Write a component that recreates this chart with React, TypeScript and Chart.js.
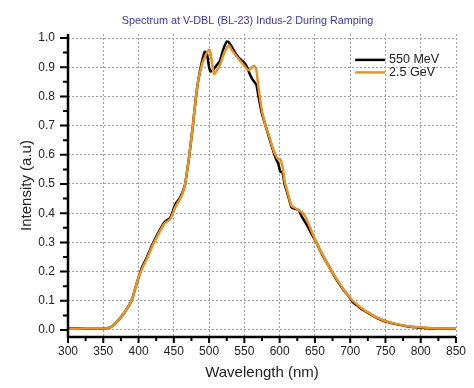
import React, { useEffect, useRef } from "react";
import { Chart, registerables } from "chart.js";

Chart.register(...registerables);

const TITLE = "Spectrum at V-DBL (BL-23) Indus-2 During Ramping";
const X_TITLE = "Wavelength (nm)";
const Y_TITLE = "Intensity (a.u)";
const SERIES_LABELS = ["550 MeV", "2.5 GeV"];
const SERIES_COLORS = ["#000000", "#f0901e"];

const X_TICKS = [300, 350, 400, 450, 500, 550, 600, 650, 700, 750, 800, 850];
const Y_TICKS = [0, 0.1, 0.2, 0.3, 0.4, 0.5, 0.6, 0.7, 0.8, 0.9, 1.0];

const wavelengths = [
  300, 320, 340, 355, 362, 370, 380, 390, 395, 400, 405, 412, 421, 430, 437,
  445, 452, 458, 462, 466, 472, 477, 481, 485, 490, 494, 497, 500, 502, 505,
  507, 510, 515, 520, 525, 528, 532, 538, 543, 548, 553, 557, 561, 564, 567,
  570, 575, 580, 585, 590, 595, 598, 601, 604, 607, 612, 617, 622, 627, 631,
  636, 640, 645, 652, 660, 667, 674, 680, 687, 693, 700, 704, 712, 720, 728,
  735, 743, 752, 765, 780, 800, 817, 835, 850,
];

const intensity550MeV = [
  0.005, 0.005, 0.004, 0.006, 0.012, 0.03, 0.06, 0.1, 0.14, 0.18, 0.215, 0.25, 0.3, 0.342, 0.37,
  0.385, 0.43, 0.45, 0.47, 0.5, 0.6, 0.7, 0.79, 0.86, 0.92, 0.953, 0.945, 0.9, 0.885, 0.89,
  0.895, 0.905, 0.92, 0.96, 0.988, 0.985, 0.97, 0.945, 0.93, 0.92, 0.905, 0.88, 0.86, 0.85, 0.84,
  0.8, 0.74, 0.7, 0.66, 0.62, 0.585, 0.57, 0.542, 0.54, 0.5, 0.46, 0.42, 0.415, 0.41, 0.39,
  0.37, 0.354, 0.33, 0.3, 0.26, 0.23, 0.2, 0.175, 0.15, 0.13, 0.108, 0.095, 0.08, 0.066, 0.055,
  0.045, 0.036, 0.028, 0.02, 0.013, 0.008, 0.005, 0.004, 0.004,
];

const intensity25GeV = [
  0.004, 0.005, 0.005, 0.006, 0.012, 0.03, 0.06, 0.1, 0.14, 0.18, 0.21, 0.245, 0.295, 0.337, 0.365,
  0.38, 0.42, 0.445, 0.465, 0.5, 0.6, 0.7, 0.79, 0.86, 0.91, 0.935, 0.95, 0.96, 0.95, 0.9,
  0.877, 0.885, 0.905, 0.94, 0.965, 0.975, 0.96, 0.94, 0.925, 0.91, 0.895, 0.89, 0.9, 0.905, 0.89,
  0.83, 0.75, 0.7, 0.665, 0.625, 0.595, 0.585, 0.585, 0.56, 0.51, 0.465, 0.425, 0.418, 0.41, 0.405,
  0.39, 0.37, 0.34, 0.3, 0.262, 0.23, 0.2, 0.178, 0.152, 0.131, 0.11, 0.1, 0.083, 0.068, 0.057,
  0.046, 0.037, 0.029, 0.021, 0.014, 0.009, 0.006, 0.005, 0.005,
];

const FONT = "'Liberation Sans', Arial, sans-serif";

const decorPlugin = {
  id: "decor",
  afterDraw(chart: any) {
    const ctx = chart.ctx;
    const area = chart.chartArea;
    const xs = chart.scales.x;
    const ys = chart.scales.y;
    ctx.save();
    // axes
    ctx.strokeStyle = "#000";
    ctx.lineWidth = 2.5;
    ctx.setLineDash([]);
    ctx.beginPath();
    ctx.moveTo(area.left, area.top);
    ctx.lineTo(area.left, area.bottom + 1);
    ctx.moveTo(area.left - 1, area.bottom);
    ctx.lineTo(area.right, area.bottom);
    ctx.stroke();
    // ticks
    ctx.lineWidth = 2;
    ctx.beginPath();
    for (let v = 0; v <= 1.0001; v += 0.05) {
      const y = ys.getPixelForValue(v);
      const major = Math.abs(v * 10 - Math.round(v * 10)) < 1e-6;
      ctx.moveTo(area.left, y);
      ctx.lineTo(area.left - (major ? 8 : 5), y);
    }
    for (let v = 300; v <= 850; v += 25) {
      const x = xs.getPixelForValue(v);
      const major = v % 50 === 0;
      ctx.moveTo(x, area.bottom);
      ctx.lineTo(x, area.bottom + (major ? 6 : 4));
    }
    ctx.stroke();
    // title
    ctx.fillStyle = "#3535c0";
    ctx.font = `10.8px ${FONT}`;
    ctx.textAlign = "center";
    ctx.textBaseline = "middle";
    ctx.fillText(TITLE, 247.5, 21);
    // legend
    const ds = chart.data.datasets;
    const lx = xs.getPixelForValue(707);
    const ly = ys.getPixelForValue(0.925);
    ctx.font = `12.5px ${FONT}`;
    ctx.textAlign = "left";
    for (let i = 0; i < ds.length; i++) {
      const yy = ly + i * 12.5;
      ctx.strokeStyle = ds[i].borderColor;
      ctx.lineWidth = 2.5;
      ctx.beginPath();
      ctx.moveTo(lx, yy);
      ctx.lineTo(lx + 30, yy);
      ctx.stroke();
      ctx.fillStyle = "#222";
      ctx.fillText(ds[i].label, lx + 34, yy);
    }
    ctx.restore();
  },
};

export default function App() {
  const ref = useRef<HTMLCanvasElement | null>(null);
  useEffect(() => {
    if (!ref.current) return;
    const mk = (vals: number[]) => wavelengths.map((w, i) => ({ x: w, y: vals[i] }));
    const chart = new Chart(ref.current, {
      type: "line",
      data: {
        datasets: [
          {
            label: SERIES_LABELS[0],
            data: mk(intensity550MeV),
            borderColor: SERIES_COLORS[0],
            borderWidth: 2.5,
            pointRadius: 0,
            tension: 0.2,
            order: 2,
          },
          {
            label: SERIES_LABELS[1],
            data: mk(intensity25GeV),
            borderColor: SERIES_COLORS[1],
            borderWidth: 2.5,
            pointRadius: 0,
            tension: 0.2,
            order: 1,
          },
        ],
      },
      options: {
        animation: false,
        responsive: true,
        maintainAspectRatio: false,
        layout: { padding: { top: 34, right: 18, left: 0, bottom: 0 } },
        plugins: { legend: { display: false }, tooltip: { enabled: false }, title: { display: false } },
        scales: {
          x: {
            type: "linear",
            min: 300,
            max: 850,
            afterBuildTicks: (s: any) => {
              s.ticks = X_TICKS.map((v) => ({ value: v }));
            },
            afterFit: (s: any) => {
              s.height = 51;
            },
            grid: { color: "#a0a0a0", lineWidth: 1, drawTicks: false },
            border: { display: false, dash: [2, 2] },
            ticks: {
              font: { size: 12, family: FONT },
              color: "#222",
              padding: 7.5,
              maxRotation: 0,
              autoSkip: false,
              callback: (v: any) => String(v),
            },
            title: {
              display: true,
              text: X_TITLE,
              font: { size: 15, family: FONT },
              color: "#222",
              padding: { top: 0, bottom: 6 },
            },
          },
          y: {
            type: "linear",
            min: -0.024,
            max: 1.0137,
            afterBuildTicks: (s: any) => {
              s.ticks = Y_TICKS.map((v) => ({ value: v }));
            },
            afterFit: (s: any) => {
              s.width = 68;
            },
            grid: { color: "#a0a0a0", lineWidth: 1, drawTicks: false },
            border: { display: false, dash: [2, 2] },
            ticks: {
              font: { size: 12, family: FONT },
              color: "#222",
              padding: 13,
              autoSkip: false,
              callback: (v: any) => Number(v).toFixed(1),
            },
            title: {
              display: true,
              text: Y_TITLE,
              font: { size: 15, family: FONT },
              color: "#222",
              padding: { top: 18, bottom: 0 },
            },
          },
        },
      },
      plugins: [decorPlugin],
    });
    return () => chart.destroy();
  }, []);
  return (
    <div style={{ position: "fixed", left: 0, top: 0, width: 474, height: 388, background: "#fff" }}>
      <canvas ref={ref} />
    </div>
  );
}
